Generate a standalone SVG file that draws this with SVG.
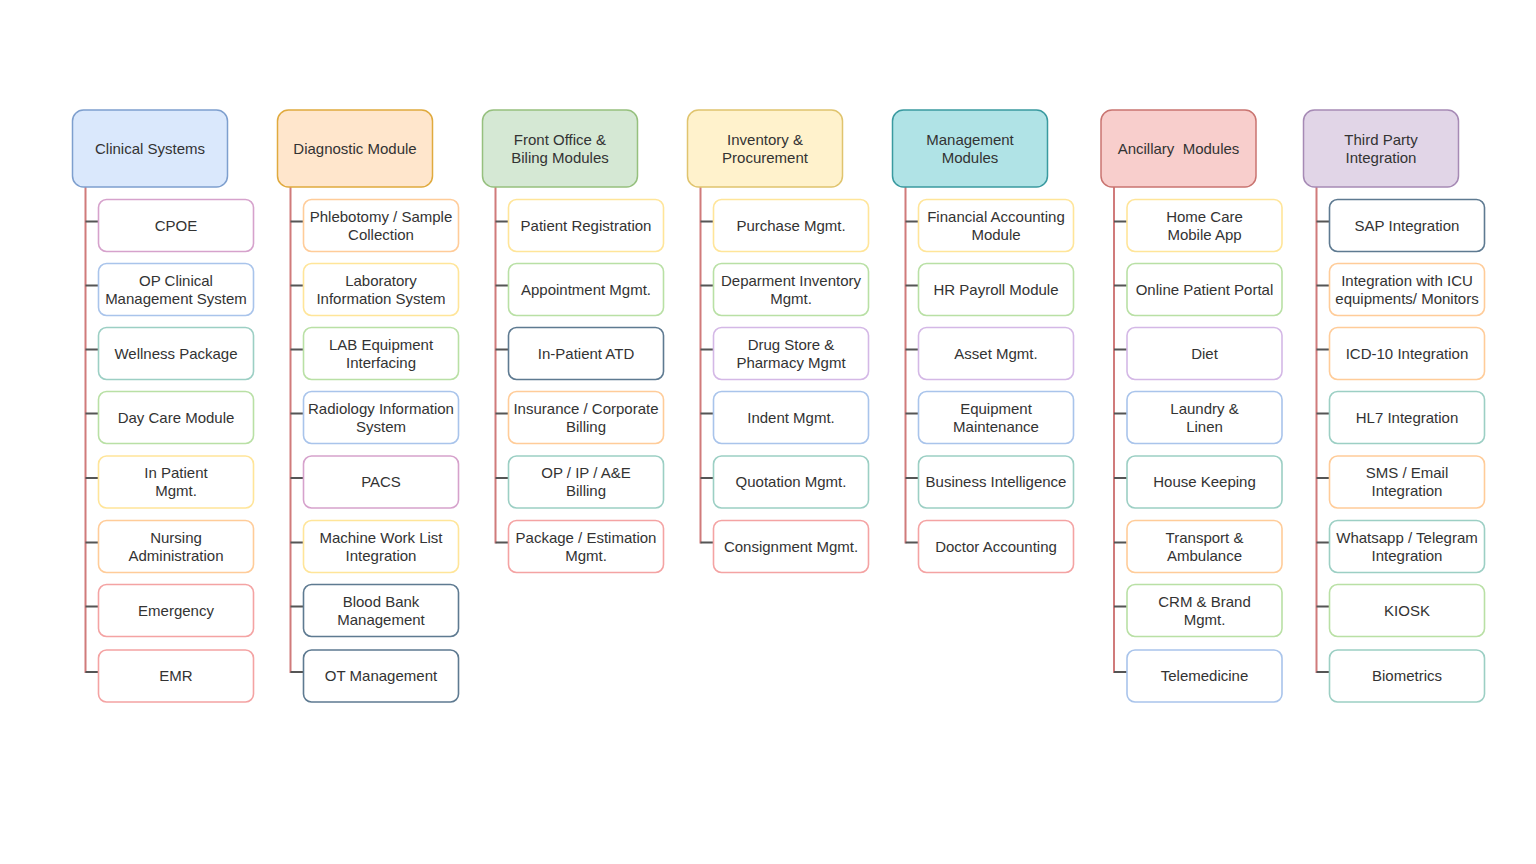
<svg xmlns="http://www.w3.org/2000/svg" width="1536" height="864" viewBox="0 0 1536 864">
<style>
text{font-family:"Liberation Sans",Arial,sans-serif;font-size:15px;fill:#333333;text-anchor:middle}
.h{stroke-width:1.5}
.c{fill:#ffffff;stroke-width:1.6}
.pk{stroke:#d6a2cc}.bl{stroke:#a9c4eb}.tl{stroke:#9ccfc4}.gr{stroke:#b9e0a5}.ye{stroke:#ffe599}
.or{stroke:#ffcc99}.rd{stroke:#f4a3a3}.sl{stroke:#5e7a91}.lv{stroke:#d4b8e6}
.v{stroke:#d07b7b;stroke-width:2;fill:none}
.t{stroke:#555555;stroke-width:2;fill:none}
</style>
<rect width="1536" height="864" fill="#ffffff"/>
<g id="connectors">
<path class="v" d="M85.5 187V673M290.5 187V673M495.5 187V543.5M700.5 187V543.5M905.5 187V543.5M1114 187V673M1316.5 187V673"/>
<path class="t" d="M85.5 221.5H98.5M85.5 285.5H98.5M85.5 349.5H98.5M85.5 413.5H98.5M85.5 478H98.5M85.5 542.5H98.5M85.5 606.5H98.5M85.5 672H98.5"/>
<path class="t" d="M290.5 221.5H303.5M290.5 285.5H303.5M290.5 349.5H303.5M290.5 413.5H303.5M290.5 478H303.5M290.5 542.5H303.5M290.5 606.5H303.5M290.5 672H303.5"/>
<path class="t" d="M495.5 221.5H508.5M495.5 285.5H508.5M495.5 349.5H508.5M495.5 413.5H508.5M495.5 478H508.5M495.5 542.5H508.5"/>
<path class="t" d="M700.5 221.5H713.5M700.5 285.5H713.5M700.5 349.5H713.5M700.5 413.5H713.5M700.5 478H713.5M700.5 542.5H713.5"/>
<path class="t" d="M905.5 221.5H918.5M905.5 285.5H918.5M905.5 349.5H918.5M905.5 413.5H918.5M905.5 478H918.5M905.5 542.5H918.5"/>
<path class="t" d="M1114 221.5H1127M1114 285.5H1127M1114 349.5H1127M1114 413.5H1127M1114 478H1127M1114 542.5H1127M1114 606.5H1127M1114 672H1127"/>
<path class="t" d="M1316.5 221.5H1329.5M1316.5 285.5H1329.5M1316.5 349.5H1329.5M1316.5 413.5H1329.5M1316.5 478H1329.5M1316.5 542.5H1329.5M1316.5 606.5H1329.5M1316.5 672H1329.5"/>
</g>

<!-- Headers -->
<g id="h-clinical"><rect class="h" x="72.5" y="110" width="155" height="77" rx="11" fill="#dae8fc" stroke="#7e9fce"/><text x="150" y="153.5">Clinical Systems</text></g>
<g id="h-diagnostic"><rect class="h" x="277.5" y="110" width="155" height="77" rx="11" fill="#ffe6cc" stroke="#e0aa3e"/><text x="355" y="153.5">Diagnostic Module</text></g>
<g id="h-frontoffice"><rect class="h" x="482.5" y="110" width="155" height="77" rx="11" fill="#d5e8d4" stroke="#96c07e"/><text x="560" y="144.5">Front Office &amp;</text><text x="560" y="162.5">Biling Modules</text></g>
<g id="h-inventory"><rect class="h" x="687.5" y="110" width="155" height="77" rx="11" fill="#fff2cc" stroke="#e0c46e"/><text x="765" y="144.5">Inventory &amp;</text><text x="765" y="162.5">Procurement</text></g>
<g id="h-management"><rect class="h" x="892.5" y="110" width="155" height="77" rx="11" fill="#b0e3e6" stroke="#3a9aa0"/><text x="970" y="144.5">Management</text><text x="970" y="162.5">Modules</text></g>
<g id="h-ancillary"><rect class="h" x="1101" y="110" width="155" height="77" rx="11" fill="#f8cecc" stroke="#c97470"/><text x="1178.5" y="153.5">Ancillary&#160; Modules</text></g>
<g id="h-thirdparty"><rect class="h" x="1303.5" y="110" width="155" height="77" rx="11" fill="#e1d5e7" stroke="#a68ab5"/><text x="1381" y="144.5">Third Party</text><text x="1381" y="162.5">Integration</text></g>

<!-- Column 1 -->
<g id="n-cpoe"><rect class="c pk" x="98.5" y="199.5" width="155" height="52" rx="8"/><text x="176" y="230.5">CPOE</text></g>
<g id="n-opclinical"><rect class="c bl" x="98.5" y="263.5" width="155" height="52" rx="8"/><text x="176" y="285.5">OP Clinical</text><text x="176" y="303.5">Management System</text></g>
<g id="n-wellness"><rect class="c tl" x="98.5" y="327.5" width="155" height="52" rx="8"/><text x="176" y="358.5">Wellness Package</text></g>
<g id="n-daycare"><rect class="c gr" x="98.5" y="391.5" width="155" height="52" rx="8"/><text x="176" y="422.5">Day Care Module</text></g>
<g id="n-inpatient"><rect class="c ye" x="98.5" y="456" width="155" height="52" rx="8"/><text x="176" y="478">In Patient</text><text x="176" y="496">Mgmt.</text></g>
<g id="n-nursing"><rect class="c or" x="98.5" y="520.5" width="155" height="52" rx="8"/><text x="176" y="542.5">Nursing</text><text x="176" y="560.5">Administration</text></g>
<g id="n-emergency"><rect class="c rd" x="98.5" y="584.5" width="155" height="52" rx="8"/><text x="176" y="615.5">Emergency</text></g>
<g id="n-emr"><rect class="c rd" x="98.5" y="650" width="155" height="52" rx="8"/><text x="176" y="681">EMR</text></g>

<!-- Column 2 -->
<g id="n-phlebotomy"><rect class="c or" x="303.5" y="199.5" width="155" height="52" rx="8"/><text x="381" y="221.5">Phlebotomy / Sample</text><text x="381" y="239.5">Collection</text></g>
<g id="n-lis"><rect class="c ye" x="303.5" y="263.5" width="155" height="52" rx="8"/><text x="381" y="285.5">Laboratory</text><text x="381" y="303.5">Information System</text></g>
<g id="n-labequip"><rect class="c gr" x="303.5" y="327.5" width="155" height="52" rx="8"/><text x="381" y="349.5">LAB Equipment</text><text x="381" y="367.5">Interfacing</text></g>
<g id="n-ris"><rect class="c bl" x="303.5" y="391.5" width="155" height="52" rx="8"/><text x="381" y="413.5">Radiology Information</text><text x="381" y="431.5">System</text></g>
<g id="n-pacs"><rect class="c pk" x="303.5" y="456" width="155" height="52" rx="8"/><text x="381" y="487">PACS</text></g>
<g id="n-mwl"><rect class="c ye" x="303.5" y="520.5" width="155" height="52" rx="8"/><text x="381" y="542.5">Machine Work List</text><text x="381" y="560.5">Integration</text></g>
<g id="n-bloodbank"><rect class="c sl" x="303.5" y="584.5" width="155" height="52" rx="8"/><text x="381" y="606.5">Blood Bank</text><text x="381" y="624.5">Management</text></g>
<g id="n-ot"><rect class="c sl" x="303.5" y="650" width="155" height="52" rx="8"/><text x="381" y="681">OT Management</text></g>

<!-- Column 3 -->
<g id="n-patreg"><rect class="c ye" x="508.5" y="199.5" width="155" height="52" rx="8"/><text x="586" y="230.5">Patient Registration</text></g>
<g id="n-appt"><rect class="c gr" x="508.5" y="263.5" width="155" height="52" rx="8"/><text x="586" y="294.5">Appointment Mgmt.</text></g>
<g id="n-atd"><rect class="c sl" x="508.5" y="327.5" width="155" height="52" rx="8"/><text x="586" y="358.5">In-Patient ATD</text></g>
<g id="n-insurance"><rect class="c or" x="508.5" y="391.5" width="155" height="52" rx="8"/><text x="586" y="413.5">Insurance / Corporate</text><text x="586" y="431.5">Billing</text></g>
<g id="n-opbilling"><rect class="c tl" x="508.5" y="456" width="155" height="52" rx="8"/><text x="586" y="478">OP / IP / A&amp;E</text><text x="586" y="496">Billing</text></g>
<g id="n-package"><rect class="c rd" x="508.5" y="520.5" width="155" height="52" rx="8"/><text x="586" y="542.5">Package / Estimation</text><text x="586" y="560.5">Mgmt.</text></g>

<!-- Column 4 -->
<g id="n-purchase"><rect class="c ye" x="713.5" y="199.5" width="155" height="52" rx="8"/><text x="791" y="230.5">Purchase Mgmt.</text></g>
<g id="n-deptinv"><rect class="c gr" x="713.5" y="263.5" width="155" height="52" rx="8"/><text x="791" y="285.5">Deparment Inventory</text><text x="791" y="303.5">Mgmt.</text></g>
<g id="n-drugstore"><rect class="c lv" x="713.5" y="327.5" width="155" height="52" rx="8"/><text x="791" y="349.5">Drug Store &amp;</text><text x="791" y="367.5">Pharmacy Mgmt</text></g>
<g id="n-indent"><rect class="c bl" x="713.5" y="391.5" width="155" height="52" rx="8"/><text x="791" y="422.5">Indent Mgmt.</text></g>
<g id="n-quotation"><rect class="c tl" x="713.5" y="456" width="155" height="52" rx="8"/><text x="791" y="487">Quotation Mgmt.</text></g>
<g id="n-consignment"><rect class="c rd" x="713.5" y="520.5" width="155" height="52" rx="8"/><text x="791" y="551.5">Consignment Mgmt.</text></g>

<!-- Column 5 -->
<g id="n-finacc"><rect class="c ye" x="918.5" y="199.5" width="155" height="52" rx="8"/><text x="996" y="221.5">Financial Accounting</text><text x="996" y="239.5">Module</text></g>
<g id="n-hr"><rect class="c gr" x="918.5" y="263.5" width="155" height="52" rx="8"/><text x="996" y="294.5">HR Payroll Module</text></g>
<g id="n-asset"><rect class="c lv" x="918.5" y="327.5" width="155" height="52" rx="8"/><text x="996" y="358.5">Asset Mgmt.</text></g>
<g id="n-equipmaint"><rect class="c bl" x="918.5" y="391.5" width="155" height="52" rx="8"/><text x="996" y="413.5">Equipment</text><text x="996" y="431.5">Maintenance</text></g>
<g id="n-bi"><rect class="c tl" x="918.5" y="456" width="155" height="52" rx="8"/><text x="996" y="487">Business Intelligence</text></g>
<g id="n-docacc"><rect class="c rd" x="918.5" y="520.5" width="155" height="52" rx="8"/><text x="996" y="551.5">Doctor Accounting</text></g>

<!-- Column 6 -->
<g id="n-homecare"><rect class="c ye" x="1127" y="199.5" width="155" height="52" rx="8"/><text x="1204.5" y="221.5">Home Care</text><text x="1204.5" y="239.5">Mobile App</text></g>
<g id="n-portal"><rect class="c gr" x="1127" y="263.5" width="155" height="52" rx="8"/><text x="1204.5" y="294.5">Online Patient Portal</text></g>
<g id="n-diet"><rect class="c lv" x="1127" y="327.5" width="155" height="52" rx="8"/><text x="1204.5" y="358.5">Diet</text></g>
<g id="n-laundry"><rect class="c bl" x="1127" y="391.5" width="155" height="52" rx="8"/><text x="1204.5" y="413.5">Laundry &amp;</text><text x="1204.5" y="431.5">Linen</text></g>
<g id="n-housekeeping"><rect class="c tl" x="1127" y="456" width="155" height="52" rx="8"/><text x="1204.5" y="487">House Keeping</text></g>
<g id="n-transport"><rect class="c or" x="1127" y="520.5" width="155" height="52" rx="8"/><text x="1204.5" y="542.5">Transport &amp;</text><text x="1204.5" y="560.5">Ambulance</text></g>
<g id="n-crm"><rect class="c gr" x="1127" y="584.5" width="155" height="52" rx="8"/><text x="1204.5" y="606.5">CRM &amp; Brand</text><text x="1204.5" y="624.5">Mgmt.</text></g>
<g id="n-telemedicine"><rect class="c bl" x="1127" y="650" width="155" height="52" rx="8"/><text x="1204.5" y="681">Telemedicine</text></g>

<!-- Column 7 -->
<g id="n-sap"><rect class="c sl" x="1329.5" y="199.5" width="155" height="52" rx="8"/><text x="1407" y="230.5">SAP Integration</text></g>
<g id="n-icu"><rect class="c or" x="1329.5" y="263.5" width="155" height="52" rx="8"/><text x="1407" y="285.5">Integration with ICU</text><text x="1407" y="303.5">equipments/ Monitors</text></g>
<g id="n-icd10"><rect class="c or" x="1329.5" y="327.5" width="155" height="52" rx="8"/><text x="1407" y="358.5">ICD-10 Integration</text></g>
<g id="n-hl7"><rect class="c tl" x="1329.5" y="391.5" width="155" height="52" rx="8"/><text x="1407" y="422.5">HL7 Integration</text></g>
<g id="n-sms"><rect class="c or" x="1329.5" y="456" width="155" height="52" rx="8"/><text x="1407" y="478">SMS / Email</text><text x="1407" y="496">Integration</text></g>
<g id="n-whatsapp"><rect class="c tl" x="1329.5" y="520.5" width="155" height="52" rx="8"/><text x="1407" y="542.5">Whatsapp / Telegram</text><text x="1407" y="560.5">Integration</text></g>
<g id="n-kiosk"><rect class="c gr" x="1329.5" y="584.5" width="155" height="52" rx="8"/><text x="1407" y="615.5">KIOSK</text></g>
<g id="n-biometrics"><rect class="c tl" x="1329.5" y="650" width="155" height="52" rx="8"/><text x="1407" y="681">Biometrics</text></g>
</svg>
